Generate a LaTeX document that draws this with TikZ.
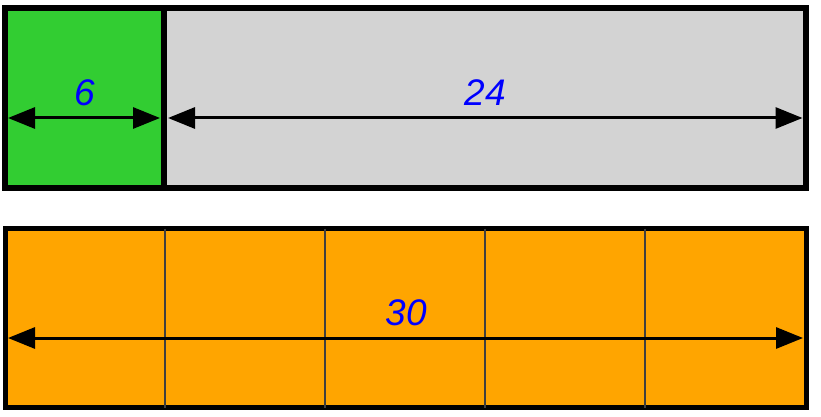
\documentclass[tikz,border=0pt]{standalone}
\usepackage{fontspec}
\newfontfamily\labelfont{Liberation Sans}
\usetikzlibrary{arrows.meta}
\definecolor{partgreen}{RGB}{50,205,50}
\definecolor{restgray}{RGB}{211,211,211}
\definecolor{wholeorange}{RGB}{255,165,0}
\begin{document}
\begin{tikzpicture}[x=1pt,y=-1pt,
	bar/.style={draw=black, line width=6pt, inner sep=0pt, outer sep=0pt, anchor=north west},
	dim/.style={{Triangle[length=27pt,width=21pt]}-{Triangle[length=27pt,width=21pt]}, line width=3pt},
	cell/.style={draw=black!75, line width=2pt},
	lbl/.style={text=blue, font=\labelfont\itshape\fontsize{37}{42}\selectfont}]
	\useasboundingbox (0,0) rectangle (821,417);
	\node[bar, fill=partgreen, minimum width=159pt, minimum height=180pt] (part) at (5,8) {};
	\node[bar, fill=restgray, minimum width=641.5pt, minimum height=180pt] (rest) at (part.north east) {};
	\draw[line width=6pt] (part.north east) -- (part.south east);
	\draw[dim, shorten <=3pt, shorten >=4pt] ([yshift=-20pt]part.west) -- ([yshift=-20pt]part.east);
	\draw[dim, shorten <=4pt, shorten >=3pt] ([yshift=-20pt]rest.west) -- ([yshift=-20pt]rest.east);
	\node[lbl] (partlbl) at (85,93) {6};
	\node[lbl] (restlbl) at (485,93) {24};
	\node[bar, fill=wholeorange, line width=5pt, minimum width=801pt, minimum height=179pt] (whole) at (5,228.5) {};
	\foreach \i in {1,...,4}
		\draw[cell] ([xshift=\i*160pt]whole.north west) -- ([xshift=\i*160pt]whole.south west);
	\draw[dim, shorten <=3pt, shorten >=3pt] ([yshift=-20pt]whole.west) -- ([yshift=-20pt]whole.east);
	\node[lbl] (wholelbl) at (406,313) {30};
\end{tikzpicture}
\end{document}
